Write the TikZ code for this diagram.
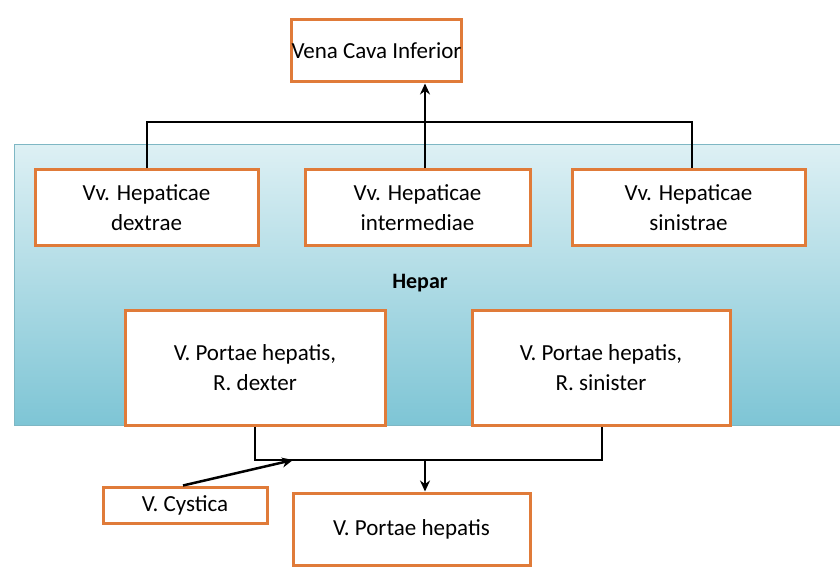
\documentclass[tikz,border=0pt]{standalone}
\usepackage{fontspec}
\setmainfont{Carlito}
\usetikzlibrary{arrows.meta}
\definecolor{orng}{HTML}{E07B39}
\definecolor{topb}{HTML}{DDF0F4}
\definecolor{botb}{HTML}{7EC5D5}
\begin{document}
\begin{tikzpicture}[x=1pt,y=-1pt,
  box/.style={draw=orng,line width=3pt,fill=white,inner sep=0pt,align=center,font=\fontsize{23}{30}\selectfont},
  ln/.style={line width=2.5pt,black},
  arr/.style={ln,-{Stealth[length=11pt,width=10pt]}}]
\useasboundingbox (0,0) rectangle (840,588);
\shade[top color=topb,bottom color=botb,draw=botb!80!gray,line width=1pt] (14,145) rectangle (840,425);
\node[box,minimum width=167pt,minimum height=62pt] (vci) at (376.5,51) {Vena Cava Inferior};
\node[box,minimum width=223pt,minimum height=75pt] (vd) at (146.5,207.5) {Vv. Hepaticae\\dextrae};
\node[box,minimum width=225pt,minimum height=75pt] (vm) at (417.5,207.5) {Vv. Hepaticae\\intermediae};
\node[box,minimum width=233pt,minimum height=75pt] (vs) at (688.5,207.5) {Vv. Hepaticae\\sinistrae};
\node[font=\fontsize{22}{26}\selectfont\bfseries] (hep) at (420,283) {Hepar};
\node[box,minimum width=260pt,minimum height=115pt] (rd) at (255,367.5) {V. Portae hepatis,\\R. dexter};
\node[box,minimum width=258pt,minimum height=115pt] (rs) at (601,367.5) {V. Portae hepatis,\\R. sinister};
\node[box,minimum width=164pt,minimum height=36pt] (cy) at (185,505) {V. Cystica};
\node[box,minimum width=237pt,minimum height=72pt] (vp) at (411.5,529) {V. Portae hepatis};
\coordinate (tl) at (147,122); \coordinate (tr) at (692,122);
\coordinate (bl) at (255,460); \coordinate (br) at (602,460);
\coordinate (bm) at (425,460); \coordinate (bc) at (293,460);
\draw[ln] (vd.north -| tl) -- (tl) -- (tr) -- (vs.north -| tr);
\draw[arr] (vm.north -| 425,0) -- (vci.south -| 425,0);
\draw[ln] (rd.south -| bl) -- (bl) -- (br) -- (rs.south -| br);
\draw[arr] (bm) -- (vp.north -| bm);
\draw[arr] (cy.north -| 183,0) -- (bc);
\end{tikzpicture}
\end{document}
